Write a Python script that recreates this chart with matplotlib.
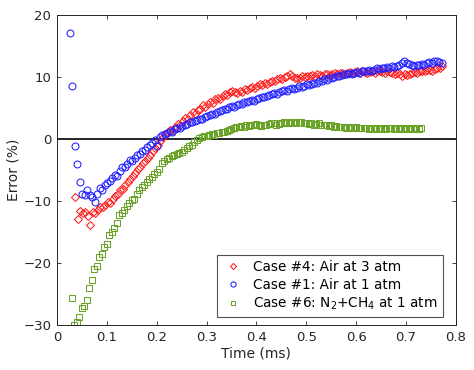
import numpy as np
import matplotlib
matplotlib.use('Agg')
import matplotlib.pyplot as plt

# sampling of the measured traces (ms)
dt = 0.005
t0_case4 = 0.037
t0_case1 = 0.026
t0_case6 = 0.030

# Case #4: Air at 3 atm (error, %)
err_case4 = [
    -9.3, -12.9, -11.6, -12.0, -11.8, -12.5, -13.9, -11.7, -11.9, -11.5,
    -10.9, -11.0, -10.6, -10.1, -10.3, -9.6, -9.2, -8.9, -8.3, -8.0,
    -7.4, -6.9, -6.4, -5.9, -5.5, -4.9, -4.5, -3.9, -3.6, -3.1,
    -2.6, -2.0, -1.4, -0.9, -0.3, 0.3, 0.6, 1.1, 1.5, 1.3,
    1.9, 2.4, 2.2, 2.9, 3.4, 3.2, 3.9, 4.3, 4.1, 4.6,
    4.9, 5.4, 5.1, 5.7, 6.0, 5.8, 6.4, 6.6, 6.5, 7.0,
    7.3, 7.1, 7.6, 7.8, 7.5, 7.4, 7.8, 7.6, 8.0, 7.9,
    8.2, 8.4, 8.3, 8.6, 8.8, 8.7, 9.0, 8.9, 9.2, 9.4,
    9.3, 9.6, 9.8, 9.7, 10.0, 10.2, 10.4, 10.1, 9.9, 9.8,
    9.9, 10.1, 10.0, 10.2, 10.1, 10.3, 10.2, 10.4, 10.3, 10.2,
    10.4, 10.5, 10.3, 10.5, 10.6, 10.4, 10.6, 10.7, 10.5, 10.7,
    10.8, 10.6, 10.8, 10.9, 10.7, 10.9, 10.8, 10.6, 10.8, 10.9,
    10.7, 10.9, 11.0, 10.8, 10.7, 10.9, 10.8, 10.6, 10.5, 10.7,
    10.4, 10.2, 10.4, 10.3, 10.5, 10.6, 10.8, 10.7, 10.9, 11.0,
    10.9, 11.1, 11.2, 11.0, 11.3, 11.5, 11.4, 11.7,
]

# Case #1: Air at 1 atm
err_case1 = [
    17.1, 8.6, -1.1, -4.0, -6.9, -8.9, -9.0, -8.3, -9.1, -9.4,
    -10.1, -8.8, -7.9, -8.3, -7.4, -7.1, -6.8, -6.3, -5.8, -5.9,
    -5.2, -4.6, -4.5, -4.0, -3.4, -3.6, -3.1, -2.6, -2.4, -1.9,
    -1.8, -1.3, -0.9, -0.7, -0.2, -1.2, 0.3, 0.6, 0.8, 0.9,
    1.3, 1.2, 1.6, 1.8, 1.7, 2.1, 2.3, 2.4, 2.7, 2.8,
    2.9, 3.0, 3.3, 3.2, 3.6, 3.7, 3.8, 4.1, 4.0, 4.4,
    4.5, 4.6, 4.9, 4.8, 5.1, 5.3, 5.2, 5.5, 5.7, 5.6,
    5.9, 6.0, 6.1, 6.3, 6.2, 6.5, 6.6, 6.8, 6.7, 7.0,
    7.1, 7.2, 7.4, 7.3, 7.6, 7.7, 7.9, 7.8, 8.0, 8.2,
    8.1, 8.3, 8.5, 8.4, 8.6, 8.8, 8.7, 8.9, 9.1, 9.0,
    9.3, 9.4, 9.6, 9.5, 9.8, 9.9, 10.0, 10.2, 10.1, 10.3,
    10.5, 10.4, 10.6, 10.5, 10.7, 10.8, 10.7, 10.9, 11.0, 10.9,
    11.1, 11.0, 11.2, 11.4, 11.3, 11.5, 11.4, 11.6, 11.5, 11.7,
    11.6, 11.8, 11.9, 12.2, 12.5, 12.3, 12.1, 11.9, 11.8, 12.0,
    11.9, 12.1, 12.0, 12.2, 12.4, 12.3, 12.5, 12.6, 12.4, 12.3,
]

# Case #6: N2+CH4 at 1 atm
err_case6 = [
    -25.6, -30.0, -29.5, -28.7, -27.2, -27.0, -26.0, -24.1, -22.7, -21.0,
    -20.5, -19.0, -18.5, -17.4, -16.9, -15.5, -15.0, -14.4, -13.6, -12.3,
    -12.0, -11.5, -10.8, -10.4, -9.8, -9.6, -8.8, -8.3, -7.7, -7.4,
    -7.0, -6.5, -6.1, -5.6, -5.3, -4.9, -3.8, -3.6, -3.3, -3.1,
    -2.7, -2.6, -2.4, -2.2, -2.1, -1.8, -1.5, -1.2, -0.9, -0.5,
    -0.2, 0.1, 0.3, 0.5, 0.4, 0.6, 0.8, 0.7, 0.9, 1.0,
    1.1, 1.2, 1.3, 1.5, 1.6, 1.8, 2.0, 1.9, 2.1, 2.0,
    2.2, 2.1, 2.3, 2.2, 2.4, 2.2, 2.1, 2.3, 2.2, 2.4,
    2.6, 2.5, 2.3, 2.4, 2.6, 2.7, 2.5, 2.6, 2.8, 2.7,
    2.6, 2.8, 2.7, 2.5, 2.6, 2.4, 2.5, 2.3, 2.4, 2.5,
    2.3, 2.2, 2.3, 2.1, 2.2, 2.0, 2.1, 1.9, 2.0, 1.9,
    1.8, 1.9, 1.7, 1.8, 1.9, 1.7, 1.8, 1.7, 1.8, 1.6,
    1.7, 1.8, 1.6, 1.7, 1.6, 1.7, 1.6, 1.8, 1.7, 1.6,
    1.7, 1.6, 1.7, 1.6, 1.7, 1.6, 1.7, 1.6, 1.7, 1.6,
    1.7,
]

labels = ['Case #4: Air at 3 atm', 'Case #1: Air at 1 atm',
          'Case #6: N$_2$+CH$_4$ at 1 atm']

t_case4 = t0_case4 + dt * np.arange(len(err_case4))
t_case1 = t0_case1 + dt * np.arange(len(err_case1))
t_case6 = t0_case6 + dt * np.arange(len(err_case6))

plt.rcParams['font.family'] = ['DejaVu Sans']
plt.rcParams['mathtext.fontset'] = 'dejavusans'

fig = plt.figure(figsize=(4.74, 3.70), dpi=100)
ax = fig.add_axes([0.120, 0.1216, 0.842, 0.838])

ax.axhline(0, color='black', lw=1.2, zorder=1)

ax.plot(t_case4, err_case4, 'D', ms=4.2, mfc='none', mec='#ff2020', mew=0.75,
        label=labels[0], zorder=3)
ax.plot(t_case1, err_case1, 'o', ms=5.0, mfc='none', mec='#2020ff', mew=0.75,
        label=labels[1], zorder=4)
ax.plot(t_case6, err_case6, 's', ms=4.2, mfc='none', mec='#6aa22a', mew=0.75,
        label=labels[2], zorder=2)

ax.set_xlim(0, 0.8)
ax.set_ylim(-30, 20)
ax.set_xticks([0, 0.1, 0.2, 0.3, 0.4, 0.5, 0.6, 0.7, 0.8])
ax.set_xticklabels(['0', '0.1', '0.2', '0.3', '0.4', '0.5', '0.6', '0.7', '0.8'])
ax.set_yticks([-30, -20, -10, 0, 10, 20])
ax.tick_params(direction='in', top=True, right=True, length=3, width=0.6,
               labelsize=9.5, colors='#262626', pad=4)
for s in ax.spines.values():
    s.set_linewidth(0.7)
    s.set_color('#262626')

ax.set_xlabel('Time (ms)', fontsize=10, color='#262626', labelpad=2)
ax.set_ylabel('Error (%)', fontsize=10, color='#262626', labelpad=2)

leg = ax.legend(loc='lower right', bbox_to_anchor=(0.967, 0.026),
                borderaxespad=0, fontsize=9.8, frameon=True, fancybox=False,
                handlelength=1.6, handletextpad=0.7, borderpad=0.35,
                labelspacing=0.3, markerscale=0.75)
leg.get_frame().set_edgecolor('#262626')
leg.get_frame().set_linewidth(0.8)

fig.savefig('out.png', dpi=100)
